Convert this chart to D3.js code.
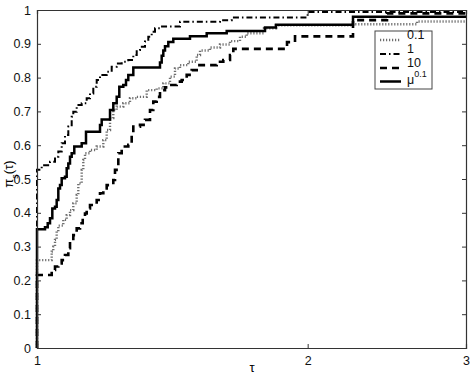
<!DOCTYPE html>
<html><head><meta charset="utf-8">
<script src="https://cdn.jsdelivr.net/npm/d3@7/dist/d3.min.js"></script>
<style>body{margin:0;background:#fff}svg{display:block}text{font-family:"Liberation Sans",Arial,sans-serif}</style>
</head><body><svg id="c" width="474" height="380"></svg>
<script>
const xTicks = [1, 2, 3];
const yTicks = [0, 0.1, 0.2, 0.3, 0.4, 0.5, 0.6, 0.7, 0.8, 0.9, 1];
const seriesNames = ["0.1", "1", "10", "mu"];
// step points [tau, fraction]
const s01 = [[1,0],[1,0.260],[1.0384,0.285],[1.0426,0.30],[1.0472,0.32],[1.0517,0.345],[1.0561,0.362],[1.0697,0.379],[1.0790,0.393],[1.0882,0.408],[1.0974,0.428],[1.1070,0.453],[1.1116,0.487],[1.1213,0.527],[1.1259,0.556],[1.1308,0.576],[1.1454,0.586],[1.1652,0.596],[1.1851,0.615],[1.1954,0.645],[1.2056,0.680],[1.2158,0.704],[1.2264,0.714],[1.2473,0.724],[1.2689,0.739],[1.2909,0.743],[1.3244,0.763],[1.3587,0.768],[1.3819,0.783],[1.4058,0.803],[1.4239,0.827],[1.4422,0.837],[1.4732,0.847],[1.5053,0.867],[1.5180,0.880],[1.5574,0.889],[1.5978,0.898],[1.6393,0.908],[1.6818,0.921],[1.7109,0.931],[1.7884,0.946],[1.8441,0.955],[2.2462,0.958],[2.6462,0.966],[3,0.966]];
const s1 = [[1,0],[1,0.527],[1.0121,0.541],[1.0339,0.551],[1.0472,0.566],[1.0561,0.581],[1.0653,0.606],[1.0743,0.630],[1.0835,0.655],[1.0929,0.684],[1.0974,0.699],[1.1070,0.719],[1.1213,0.724],[1.1357,0.739],[1.1454,0.753],[1.1551,0.773],[1.1652,0.793],[1.1751,0.808],[1.1954,0.817],[1.2108,0.832],[1.2264,0.842],[1.2422,0.847],[1.2634,0.852],[1.2797,0.867],[1.2909,0.882],[1.3018,0.891],[1.3186,0.907],[1.3298,0.921],[1.3414,0.936],[1.3528,0.946],[1.3702,0.951],[1.4422,0.965],[1.5978,0.970],[1.6465,0.978],[2.0,0.994],[3,0.994]];
const s10 = [[1,0],[1,0.216],[1.0384,0.231],[1.0472,0.241],[1.0561,0.25],[1.0653,0.26],[1.0743,0.275],[1.0835,0.295],[1.0882,0.314],[1.0974,0.334],[1.1070,0.354],[1.1164,0.369],[1.1242,0.384],[1.1308,0.398],[1.1357,0.413],[1.1454,0.423],[1.1652,0.438],[1.1751,0.458],[1.1851,0.472],[1.1954,0.482],[1.2158,0.497],[1.2211,0.527],[1.2315,0.576],[1.2422,0.596],[1.2634,0.601],[1.2744,0.635],[1.2797,0.655],[1.3018,0.660],[1.3186,0.675],[1.3356,0.704],[1.3469,0.729],[1.3587,0.743],[1.3702,0.763],[1.3879,0.771],[1.4058,0.778],[1.4301,0.788],[1.4485,0.793],[1.4672,0.808],[1.4861,0.822],[1.5053,0.837],[1.5844,0.847],[1.6114,0.852],[1.6393,0.867],[1.6532,0.885],[1.8970,0.905],[1.9362,0.922],[2.2462,0.970],[2.4506,0.990],[3,0.990]];
const sMu = [[1,0],[1,0.351],[1.0207,0.357],[1.0278,0.369],[1.0339,0.384],[1.0400,0.413],[1.0472,0.418],[1.0517,0.438],[1.0561,0.472],[1.0607,0.482],[1.0653,0.502],[1.0743,0.507],[1.0790,0.532],[1.0835,0.546],[1.0882,0.566],[1.0929,0.576],[1.1002,0.596],[1.1213,0.606],[1.1337,0.640],[1.1751,0.660],[1.1802,0.676],[1.2056,0.704],[1.2158,0.724],[1.2264,0.743],[1.2346,0.773],[1.2473,0.778],[1.2560,0.793],[1.2634,0.808],[1.2797,0.830],[1.3702,0.845],[1.3762,0.865],[1.3819,0.880],[1.3879,0.893],[1.3997,0.905],[1.4177,0.915],[1.4796,0.922],[1.5443,0.931],[1.6255,0.938],[1.7930,0.948],[1.8441,0.956],[2.2462,0.980],[3,0.980]];

const styles = {
  "0.1": {data: s01, stroke: "#6e6e6e", width: 2.4, dash: "1.2,1.8"},
  "1":   {data: s1,  stroke: "#000", width: 2, dash: "6,3,1.5,3"},
  "10":  {data: s10, stroke: "#000", width: 2.6, dash: "7,5"},
  "mu":  {data: sMu, stroke: "#000", width: 2.5, dash: null}
};

const svg = d3.select("#c");
const L = 37, R = 466, T = 10, B = 348;
const x = d3.scaleLog().base(2).domain([1, 3]).range([L, R]);
const y = d3.scaleLinear().domain([0, 1]).range([B, T]);

const line = d3.line().x(d => x(d[0])).y(d => y(d[1])).curve(d3.curveStepAfter);

const plot = svg.append("g");
seriesNames.forEach(n => {
  const s = styles[n];
  plot.append("path").attr("d", line(s.data)).attr("fill", "none")
    .attr("stroke", s.stroke).attr("stroke-width", s.width)
    .attr("stroke-dasharray", s.dash).attr("stroke-linecap", "butt");
});

// axes box
const axColor = "#333";
const gL = svg.append("g").attr("transform", `translate(${L},0)`)
  .call(d3.axisLeft(y).tickValues(yTicks).tickSize(-4).tickPadding(6).tickFormat(d => d3.format("")(+d.toFixed(1))));
const gR = svg.append("g").attr("transform", `translate(${R},0)`)
  .call(d3.axisRight(y).tickValues(yTicks).tickSize(-4).tickFormat(""));
const gB = svg.append("g").attr("transform", `translate(0,${B})`)
  .call(d3.axisBottom(x).tickValues(xTicks).tickSize(-4).tickPadding(8).tickFormat(d3.format("d")));
const gT = svg.append("g").attr("transform", `translate(0,${T})`)
  .call(d3.axisTop(x).tickValues(xTicks).tickSize(-4).tickFormat(""));
[gL, gR, gB, gT].forEach(g => {
  g.select(".domain").attr("stroke", axColor).attr("stroke-width", 1.2);
  g.selectAll(".tick line").attr("stroke", axColor);
  g.selectAll(".tick text").attr("fill", "#111").style("font-size", "12.5px").style("font-family", '"Liberation Sans",Arial,sans-serif');
});

// axis labels
svg.append("text").attr("x", 252).attr("y", 372).attr("text-anchor", "middle")
  .style("font-size", "13px").text("τ");
const yl = svg.append("text").attr("transform", "translate(13,174) rotate(-90)")
  .attr("text-anchor", "middle").style("font-size", "13px");
yl.append("tspan").text("π");
yl.append("tspan").attr("baseline-shift", "sub").style("font-size", "9px").text("s");
yl.append("tspan").text("(τ)");

// legend
const lg = svg.append("g");
lg.append("rect").attr("x", 375).attr("y", 31).attr("width", 57).attr("height", 58)
  .attr("fill", "#fff").attr("stroke", "#444").attr("stroke-width", 1);
const rows = [{n: "0.1", ly: 40}, {n: "1", ly: 54}, {n: "10", ly: 68}, {n: "mu", ly: 81.5}];
rows.forEach(r => {
  const s = styles[r.n];
  lg.append("line").attr("x1", 380).attr("x2", 401).attr("y1", r.ly).attr("y2", r.ly)
    .attr("stroke", s.stroke).attr("stroke-width", s.width).attr("stroke-dasharray", s.dash);
  const t = lg.append("text").attr("x", 407).attr("y", r.ly - 1).style("font-size", "12.5px").attr("fill", "#111");
  if (r.n === "mu") {
    t.attr("y", r.ly + 2);
    t.append("tspan").text("μ");
    t.append("tspan").attr("dy", -7).style("font-size", "9px").text("0.1");
  } else t.text(r.n);
});
</script></body></html>
